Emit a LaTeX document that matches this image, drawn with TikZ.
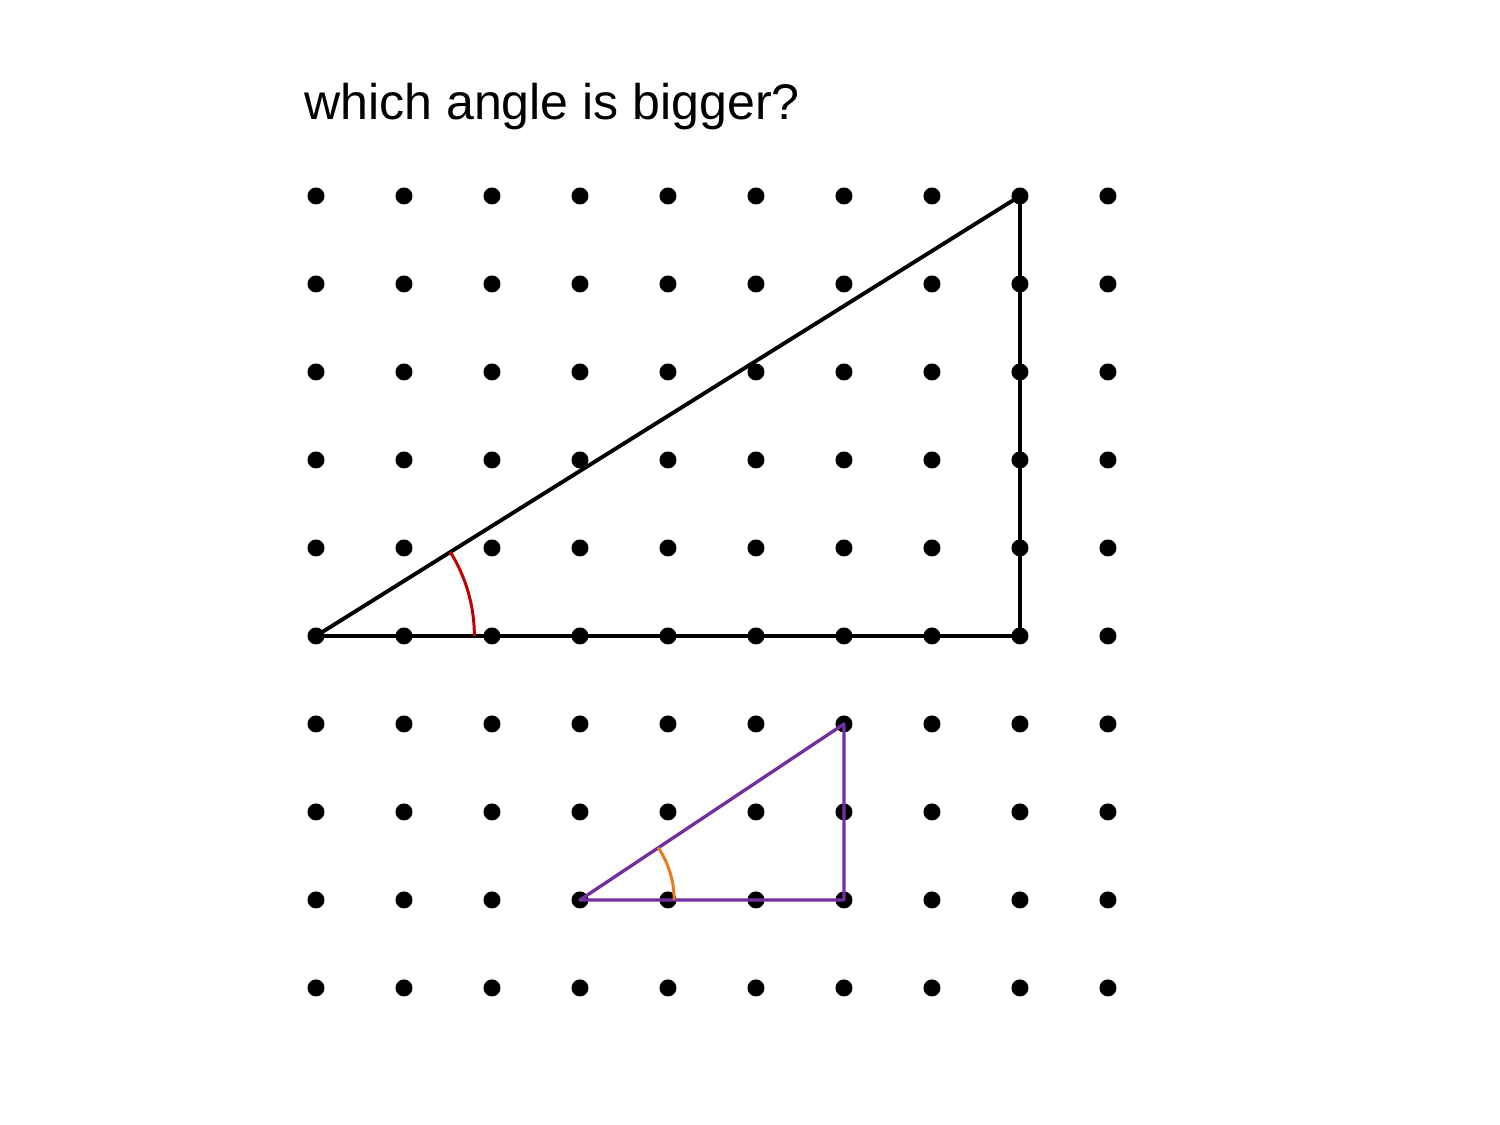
\documentclass[tikz,border=0pt]{standalone}
\usepackage{fontspec}
\setmainfont{Liberation Sans}
\definecolor{angred}{HTML}{C00000}
\definecolor{angorange}{HTML}{E87A1E}
\definecolor{tripurple}{HTML}{7030A0}
\tikzstyle{dot}=[circle,fill=black,inner sep=0pt,minimum size=0.34cm]
\tikzstyle{side}=[line width=2.2pt,line join=round]

\begin{document}
\begin{tikzpicture}[x=1.76cm,y=1.76cm]
            \useasboundingbox (-3.591,-1.557) rectangle (13.455,11.227);
            \node (title) at (-0.136,9.864) [anchor=base west,inner sep=0pt,font=\fontsize{28.5}{34}\selectfont] {which angle is bigger?};
            \foreach \i in {0,...,9}
              \foreach \j in {0,...,9}
                \node (d-\i-\j) at (\i,\j) [dot] {};
            \draw[side] (d-0-4.center) -- (d-8-4.center) -- (d-8-9.center) -- cycle;
            \draw[side,tripurple,line width=1.9pt] (d-3-1.center) -- (d-6-1.center) -- (d-6-3.center) -- cycle;
            \draw[angred,line width=1.7pt] (1.8,4) arc[start angle=0,end angle=32.0,radius=1.8];
            \draw[angorange,line width=1.7pt] (4.07,1) arc[start angle=0,end angle=33.7,radius=1.07];
        \end{tikzpicture}
\end{document}
